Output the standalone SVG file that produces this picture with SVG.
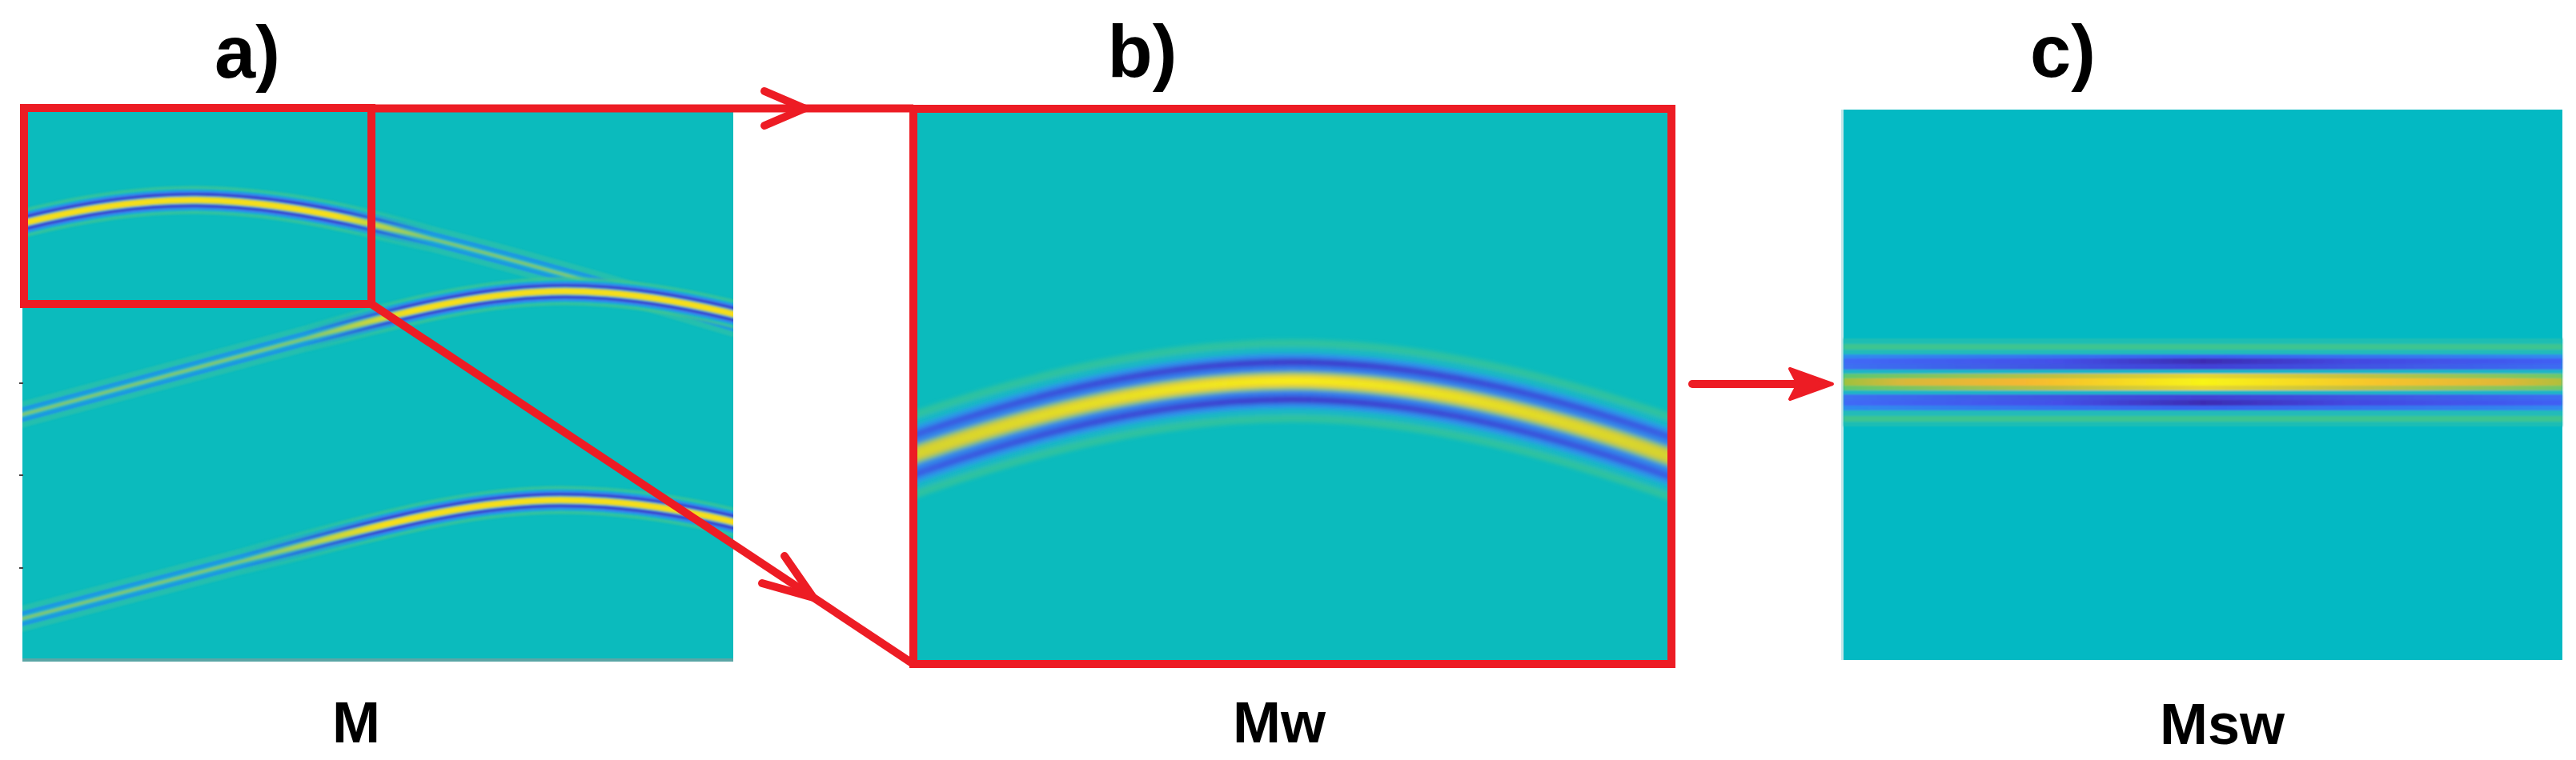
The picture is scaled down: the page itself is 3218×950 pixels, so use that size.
<svg xmlns="http://www.w3.org/2000/svg" xmlns:xlink="http://www.w3.org/1999/xlink" width="3218" height="950" viewBox="0 0 3218 950">
<style>
.lbl{font-family:"Liberation Sans",Arial,sans-serif;font-weight:bold;fill:#000;text-anchor:middle}
.band{fill:none;stroke-linecap:butt;stroke-linejoin:round}
.s0{stroke:#45c78d;stroke-width:36;opacity:.55}
.s1{stroke:#0fb8c6;stroke-width:28}
.s2{stroke:#3088ec;stroke-width:24}
.s3{stroke:#3b3fcc;stroke-width:18}
.s4{stroke:#3a8fe4;stroke-width:12}
.s5{stroke:#a6c848;stroke-width:9}
.s6{stroke:#f6de1c;stroke-width:6}
.f0{stroke:#3cc4a0;stroke-width:32;opacity:.5}
.f1{stroke:#1c98e2;stroke-width:18}
.f2{stroke:#22b2c8;stroke-width:9}
.f3{stroke:#78c878;stroke-width:4}
.b0{stroke:#45c68e;stroke-width:104;opacity:.6}
.b1{stroke:#12b8c5;stroke-width:84}
.b2{stroke:#2f8cec;stroke-width:68}
.b3{stroke:#3c3dcc;stroke-width:56}
.b4{stroke:#3479ec;stroke-width:38}
.b5{stroke:#7cc27a;stroke-width:24}
.b6{stroke:#f3d422;stroke-width:15}
.b7{stroke:#f8f01c;stroke-width:6}
.bf2{stroke:#2a9ee6;stroke-width:68}
.bf3{stroke:#3570f0;stroke-width:56}
.bf4{stroke:#2e90e8;stroke-width:38}
.bf5{stroke:#7cc070;stroke-width:24}
.bf6{stroke:#c4c83a;stroke-width:15}
.red{fill:none;stroke:#ed1c24;stroke-width:10}
.redhead{fill:none;stroke:#ed1c24;stroke-width:10;stroke-linecap:round;stroke-linejoin:miter}
</style>
<defs>
<path id="c1" d="M15,282 L29,279 C99,261.5 170,250 240,250 C315,250 389,262 464,280 C614,316 766,360 930,409"/>
<path id="c2" d="M10,523 L420,413 C515,387 611,364 706,364 C776,364 846,374.5 930,396"/>
<path id="c3" d="M10,778 L400,676 C500,650 600,625 700,625 C772,625 844,634 930,656"/>
<path id="cb" d="M1125,575 L1146,567 C1302,513 1457,476 1613,476 C1770,476 1927,515 2083,570 L2105,578"/>
<clipPath id="clipA"><rect x="28" y="137" width="888" height="688"/></clipPath>
<clipPath id="clipB"><rect x="1141" y="136" width="947" height="694"/></clipPath>
<filter id="soft" filterUnits="userSpaceOnUse" x="0" y="0" width="3218" height="950"><feGaussianBlur stdDeviation="1.3"/></filter>
<filter id="softB" filterUnits="userSpaceOnUse" x="0" y="0" width="3218" height="950"><feGaussianBlur stdDeviation="2.5"/></filter>
<linearGradient id="g1" gradientUnits="userSpaceOnUse" x1="420" y1="0" x2="540" y2="0"><stop offset="0" stop-color="#fff"/><stop offset="1" stop-color="#000"/></linearGradient>
<linearGradient id="g2" gradientUnits="userSpaceOnUse" x1="380" y1="0" x2="510" y2="0"><stop offset="0" stop-color="#000"/><stop offset="1" stop-color="#fff"/></linearGradient>
<linearGradient id="g3" gradientUnits="userSpaceOnUse" x1="300" y1="0" x2="480" y2="0"><stop offset="0" stop-color="#000"/><stop offset="1" stop-color="#fff"/></linearGradient>
<linearGradient id="gb" gradientUnits="userSpaceOnUse" x1="1141" y1="0" x2="2088" y2="0"><stop offset="0" stop-color="#555"/><stop offset=".5" stop-color="#fff"/><stop offset="1" stop-color="#555"/></linearGradient>
<mask id="m1" maskUnits="userSpaceOnUse" x="0" y="0" width="3218" height="950"><rect width="3218" height="950" fill="url(#g1)"/></mask>
<mask id="m2" maskUnits="userSpaceOnUse" x="0" y="0" width="3218" height="950"><rect width="3218" height="950" fill="url(#g2)"/></mask>
<mask id="m3" maskUnits="userSpaceOnUse" x="0" y="0" width="3218" height="950"><rect width="3218" height="950" fill="url(#g3)"/></mask>
<mask id="mb" maskUnits="userSpaceOnUse" x="0" y="0" width="3218" height="950"><rect width="3218" height="950" fill="url(#gb)"/></mask>
<linearGradient id="gY" x1="0" y1="0" x2="1" y2="0"><stop offset="0" stop-color="#9ec23e"/><stop offset=".08" stop-color="#d8b83a"/><stop offset=".25" stop-color="#f5b830"/><stop offset=".5" stop-color="#f8f418"/><stop offset=".75" stop-color="#f6c42c"/><stop offset=".92" stop-color="#e0b836"/><stop offset="1" stop-color="#b0c03c"/></linearGradient>
<linearGradient id="gYG" x1="0" y1="0" x2="1" y2="0"><stop offset="0" stop-color="#5cc870"/><stop offset=".3" stop-color="#c0c040"/><stop offset=".5" stop-color="#e6d630"/><stop offset=".7" stop-color="#c8c23e"/><stop offset="1" stop-color="#6cc86a"/></linearGradient>
<linearGradient id="gDB" x1="0" y1="0" x2="1" y2="0"><stop offset="0" stop-color="#3f6af6"/><stop offset=".3" stop-color="#4450e8"/><stop offset=".5" stop-color="#3c2cb4"/><stop offset=".7" stop-color="#4448e0"/><stop offset="1" stop-color="#4060f4"/></linearGradient>
<linearGradient id="gB" x1="0" y1="0" x2="1" y2="0"><stop offset="0" stop-color="#2f8cee"/><stop offset=".5" stop-color="#3a62f0"/><stop offset="1" stop-color="#318aee"/></linearGradient>
<linearGradient id="gB2" x1="0" y1="0" x2="1" y2="0"><stop offset="0" stop-color="#3d70f2"/><stop offset=".5" stop-color="#4242d6"/><stop offset="1" stop-color="#3d6cf2"/></linearGradient>
</defs>
<rect width="3218" height="950" fill="#fff"/>

<g id="panel-a">
<rect x="28" y="137" width="888" height="688" fill="#0bbbbd"/>
<rect x="28" y="823" width="888" height="4" fill="#5aa6a6"/>
<rect x="24" y="478" width="5" height="2" fill="#444"/>
<rect x="24" y="593" width="5" height="2" fill="#444"/>
<rect x="24" y="709" width="5" height="2" fill="#444"/>
<g clip-path="url(#clipA)">
<g filter="url(#soft)">
<use href="#c1" class="band f0"/><use href="#c1" class="band f1"/><use href="#c1" class="band f2"/><use href="#c1" class="band f3"/>
<use href="#c2" class="band f0"/><use href="#c2" class="band f1"/><use href="#c2" class="band f2"/><use href="#c2" class="band f3"/>
<use href="#c3" class="band f0"/><use href="#c3" class="band f1"/><use href="#c3" class="band f2"/><use href="#c3" class="band f3"/>
<g mask="url(#m1)"><use href="#c1" class="band s0"/><use href="#c1" class="band s1"/><use href="#c1" class="band s2"/><use href="#c1" class="band s3"/><use href="#c1" class="band s4"/><use href="#c1" class="band s5"/><use href="#c1" class="band s6"/></g>
<g mask="url(#m2)"><use href="#c2" class="band s0"/><use href="#c2" class="band s1"/><use href="#c2" class="band s2"/><use href="#c2" class="band s3"/><use href="#c2" class="band s4"/><use href="#c2" class="band s5"/><use href="#c2" class="band s6"/></g>
<g mask="url(#m3)"><use href="#c3" class="band s0"/><use href="#c3" class="band s1"/><use href="#c3" class="band s2"/><use href="#c3" class="band s3"/><use href="#c3" class="band s4"/><use href="#c3" class="band s5"/><use href="#c3" class="band s6"/></g>
</g>
</g>
<rect x="30" y="135" width="434" height="245" class="red"/>
<text class="lbl" x="309" y="97" font-size="92">a)</text>
<text class="lbl" x="445" y="928" font-size="72">M</text>
</g>

<g id="panel-b">
<rect x="1141" y="136" width="947" height="694" fill="#0bbbbd"/>
<g clip-path="url(#clipB)">
<g filter="url(#softB)">
<use href="#cb" class="band b0"/><use href="#cb" class="band b1"/>
<use href="#cb" class="band bf2"/><use href="#cb" class="band bf3"/><use href="#cb" class="band bf4"/><use href="#cb" class="band bf5"/><use href="#cb" class="band bf6"/>
<g mask="url(#mb)"><use href="#cb" class="band b2"/><use href="#cb" class="band b3"/><use href="#cb" class="band b4"/><use href="#cb" class="band b5"/><use href="#cb" class="band b6"/><use href="#cb" class="band b7"/></g>
</g>
</g>
<rect x="1141" y="136" width="947" height="694" class="red"/>
<text class="lbl" x="1427" y="96" font-size="92">b)</text>
<text class="lbl" x="1598" y="928" font-size="72">Mw</text>
</g>

<g id="panel-c">
<rect x="2303" y="137" width="898" height="688" fill="#03b9c3"/>
<rect x="2300" y="137" width="3" height="688" fill="#c4e6e8"/>
<g filter="url(#soft)">
<rect x="2303" y="423" width="898" height="7" fill="#1ebdb4"/>
<rect x="2303" y="430" width="898" height="7" fill="#3ec590"/>
<rect x="2303" y="437" width="898" height="6" fill="#20bbb9"/>
<rect x="2303" y="443" width="898" height="5" fill="url(#gB)"/>
<rect x="2303" y="448" width="898" height="7" fill="url(#gDB)"/>
<rect x="2303" y="455" width="898" height="7" fill="url(#gB2)"/>
<rect x="2303" y="462" width="898" height="5" fill="#1fb5c6"/>
<rect x="2303" y="467" width="898" height="6" fill="url(#gYG)"/>
<rect x="2303" y="473" width="898" height="9" fill="url(#gY)"/>
<rect x="2303" y="482" width="898" height="6" fill="url(#gYG)"/>
<rect x="2303" y="488" width="898" height="5" fill="#1fb5c6"/>
<rect x="2303" y="493" width="898" height="7" fill="url(#gB2)"/>
<rect x="2303" y="500" width="898" height="7" fill="url(#gDB)"/>
<rect x="2303" y="507" width="898" height="6" fill="url(#gB)"/>
<rect x="2303" y="513" width="898" height="7" fill="#20bbb9"/>
<rect x="2303" y="520" width="898" height="7" fill="#3ec590"/>
<rect x="2303" y="527" width="898" height="6" fill="#1ebdb4"/>
</g>
<text class="lbl" x="2577" y="96" font-size="92">c)</text>
<text class="lbl" x="2776" y="930" font-size="72">Msw</text>
</g>

<g id="connectors">
<line x1="464" y1="135.5" x2="1141" y2="135.5" class="red"/>
<polyline points="955,114 1005,135.5 955,157" class="redhead"/>
<line x1="464" y1="380" x2="1141" y2="830" class="red"/>
<polyline points="980,695 1016,747 952,729" class="redhead"/>
<line x1="2114" y1="480" x2="2262" y2="480" class="red" stroke-linecap="round"/>
<polygon points="2289,480 2236,461 2246,480 2236,499" fill="#ed1c24" stroke="#ed1c24" stroke-width="4" stroke-linejoin="round"/>
</g>
</svg>
